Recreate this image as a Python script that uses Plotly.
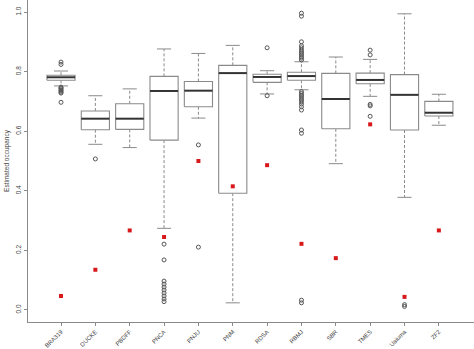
import plotly.graph_objects as go

categories = ["BRA319", "DUCKE", "PBDFF", "PNCA", "PNJU", "PNM", "RDSA", "RBMJ", "SBR", "TMES", "Uaiuma", "ZF2"]
q1 = [0.771, 0.605, 0.606, 0.570, 0.682, 0.392, 0.764, 0.771, 0.608, 0.759, 0.604, 0.651]
median = [0.781, 0.642, 0.642, 0.735, 0.736, 0.795, 0.782, 0.785, 0.708, 0.772, 0.722, 0.662]
q3 = [0.788, 0.668, 0.692, 0.784, 0.767, 0.821, 0.791, 0.798, 0.794, 0.795, 0.790, 0.700]
lower_whisker = [0.752, 0.556, 0.545, 0.274, 0.644, 0.024, 0.725, 0.739, 0.491, 0.717, 0.378, 0.620]
upper_whisker = [0.802, 0.719, 0.742, 0.876, 0.861, 0.888, 0.803, 0.833, 0.849, 0.841, 0.994, 0.724]
outliers = [
    [0.832, 0.824, 0.748, 0.745, 0.742, 0.738, 0.735, 0.731, 0.728, 0.697],
    [0.507],
    [],
    [0.221, 0.168, 0.097, 0.087, 0.077, 0.067, 0.057, 0.047, 0.037, 0.028],
    [0.554, 0.211],
    [],
    [0.880, 0.719],
    [0.996, 0.986, 0.900, 0.887, 0.880, 0.872, 0.866, 0.861, 0.856, 0.850, 0.845, 0.839,
     0.733, 0.727, 0.721, 0.716, 0.710, 0.705, 0.699, 0.691, 0.682, 0.671, 0.604, 0.593,
     0.033, 0.024],
    [],
    [0.872, 0.856, 0.690, 0.685, 0.650],
    [0.018, 0.012],
    [],
]
red_points = [0.047, 0.135, 0.267, 0.245, 0.500, 0.415, 0.486, 0.222, 0.174, 0.623, 0.044, 0.267]

BOX_HALF = 0.41
CAP_HALF = 0.205
GRAY = "#8a8a8a"
TEXT = "#444444"

xs = list(range(len(categories)))

box_x, box_y = [], []
med_x, med_y = [], []
wh_x, wh_y = [], []
cap_x, cap_y = [], []
out_x, out_y = [], []
for i in xs:
    l, r = i - BOX_HALF, i + BOX_HALF
    box_x += [l, r, r, l, l, None]
    box_y += [q1[i], q1[i], q3[i], q3[i], q1[i], None]
    med_x += [l, r, None]
    med_y += [median[i], median[i], None]
    wh_x += [i, i, None, i, i, None]
    wh_y += [q3[i], upper_whisker[i], None, q1[i], lower_whisker[i], None]
    cap_x += [i - CAP_HALF, i + CAP_HALF, None, i - CAP_HALF, i + CAP_HALF, None]
    cap_y += [upper_whisker[i], upper_whisker[i], None, lower_whisker[i], lower_whisker[i], None]
    for v in outliers[i]:
        out_x.append(i)
        out_y.append(v)

fig = go.Figure()
fig.add_trace(go.Scatter(x=wh_x, y=wh_y, mode="lines",
                         line=dict(color=GRAY, width=1, dash="3px,2px"), hoverinfo="skip"))
fig.add_trace(go.Scatter(x=cap_x, y=cap_y, mode="lines",
                         line=dict(color=GRAY, width=1), hoverinfo="skip"))
fig.add_trace(go.Scatter(x=box_x, y=box_y, mode="lines", fill="toself", fillcolor="white",
                         line=dict(color=GRAY, width=1.1), hoverinfo="skip"))
fig.add_trace(go.Scatter(x=med_x, y=med_y, mode="lines",
                         line=dict(color="#333333", width=2), hoverinfo="skip"))
fig.add_trace(go.Scatter(x=out_x, y=out_y, mode="markers",
                         marker=dict(symbol="circle-open", size=4, color="#555555",
                                     line=dict(width=1))))
fig.add_trace(go.Scatter(x=xs, y=red_points, mode="markers",
                         marker=dict(symbol="square", size=4, color="#d7191c")))

fig.update_layout(
    width=474, height=349,
    margin=dict(l=28, r=0, t=0, b=27),
    paper_bgcolor="white", plot_bgcolor="white",
    showlegend=False,
    font=dict(family="Liberation Sans, Arial, sans-serif", size=6, color=TEXT),
    xaxis=dict(
        range=[-0.961, 12.023], tickmode="array", tickvals=xs, ticktext=categories,
        tickangle=-45, showgrid=False, zeroline=False, showline=True,
        linecolor=GRAY, linewidth=1, ticks="outside", ticklen=3, tickcolor=GRAY,
        tickfont=dict(size=6, color=TEXT), automargin=False,
    ),
    yaxis=dict(
        range=[-0.0403, 1.0403], tickvals=[0, 0.2, 0.4, 0.6, 0.8, 1.0],
        ticktext=["0.0", "0.2", "0.4", "0.6", "0.8", "1.0"], tickangle=-90,
        showgrid=False, zeroline=False, showline=True, linecolor=GRAY, linewidth=1,
        ticks="outside", ticklen=3, tickcolor=GRAY, tickfont=dict(size=6.5, color=TEXT),
        title=dict(text="Estimated occupancy", font=dict(size=6.5, color=TEXT), standoff=5),
        automargin=False,
    ),
)

fig.write_html("out.html")
